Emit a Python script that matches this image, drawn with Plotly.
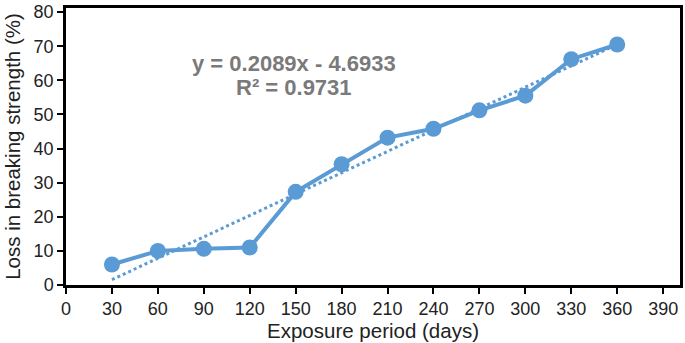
import plotly.graph_objects as go

days = [30, 60, 90, 120, 150, 180, 210, 240, 270, 300, 330, 360]
loss = [6.0, 10.0, 10.6, 11.0, 27.3, 35.4, 43.2, 45.8, 51.2, 55.5, 66.2, 70.5]
slope = 0.2089
intercept = -4.6933
eq_text = "y = 0.2089x - 4.6933"
r2_text = "R² = 0.9731"
x_ticks = list(range(0, 391, 30))
y_ticks = list(range(0, 81, 10))

color = "#5B9BD5"
font_family = "Liberation Sans, Arial"
trend_x = [days[0], days[-1]]
trend_y = [slope * v + intercept for v in trend_x]

fig = go.Figure()
fig.add_trace(go.Scatter(x=trend_x, y=trend_y, mode="lines",
                         line=dict(color=color, width=3, dash="dot"),
                         showlegend=False, hoverinfo="skip"))
fig.add_trace(go.Scatter(x=days, y=loss, mode="lines+markers",
                         line=dict(color=color, width=4),
                         marker=dict(color=color, size=16),
                         showlegend=False))

for yv, txt in [(64.8, eq_text), (58.0, r2_text)]:
    fig.add_annotation(x=149, y=yv, text="<b>" + txt + "</b>", showarrow=False,
                       font=dict(family=font_family, size=22, color="#7a7a7a"),
                       xanchor="center", yanchor="middle")

fig.update_layout(
    width=685, height=343,
    margin=dict(l=66, r=2, t=3, b=58),
    paper_bgcolor="white", plot_bgcolor="white",
    font=dict(family=font_family, size=18, color="#222222"),
    xaxis=dict(range=[0, 401], tickvals=x_ticks, showgrid=False, zeroline=False,
               showline=True, linecolor="black", linewidth=2.5, mirror=True,
               ticks="outside", ticklen=6, tickcolor="black", tickwidth=1.5,
               ticklabeloverflow="allow",
               title=dict(text="Exposure period (days)", font=dict(size=20.5), standoff=1)),
    yaxis=dict(range=[0, 81.2], tickvals=y_ticks, showgrid=False, zeroline=False,
               showline=True, linecolor="black", linewidth=2.5, mirror=True,
               ticks="outside", ticklen=6, tickcolor="black", tickwidth=1.5,
               ticklabeloverflow="allow",
               title=dict(text="Loss in breaking strength (%)", font=dict(size=20.5), standoff=8)),
)

fig.write_html("out.html", config={"displayModeBar": False},
               post_script="document.body.style.margin='0';")
